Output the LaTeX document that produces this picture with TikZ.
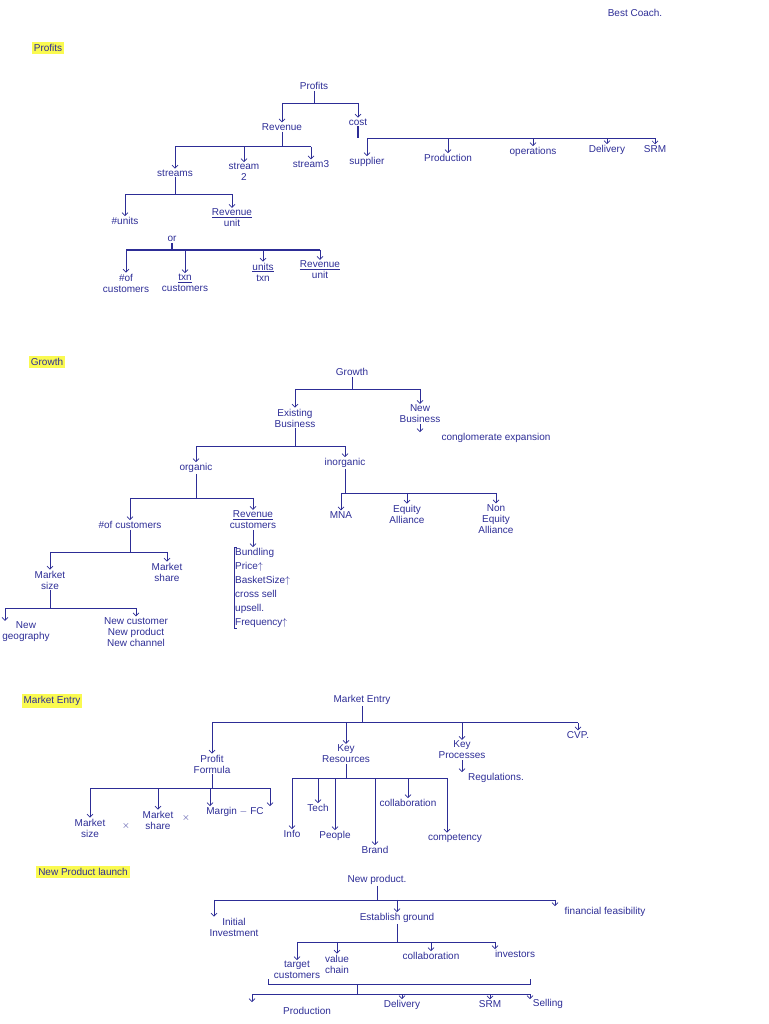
\documentclass[tikz,border=0pt]{standalone}
\usepackage{fontspec}
\setmainfont{Liberation Sans}
\usetikzlibrary{arrows.meta}
\definecolor{ink}{RGB}{45,45,150}
\definecolor{hl}{RGB}{250,250,80}
\begin{document}
\begin{tikzpicture}[x=1pt,y=-1pt,
  t/.style={text=ink,font=\fontsize{10}{11}\selectfont,align=center,inner sep=1pt},
  hd/.style={t,fill=hl,font=\fontsize{10}{11}\selectfont,inner sep=2pt},
  ln/.style={draw=ink,line width=0.7pt},
  ar/.style={ln,-{Straight Barb[length=3pt]}}]
\useasboundingbox (0,0) rectangle (768,1024);
\clip (0,0) rectangle (768,1024);
\node[t] (bc) at (635,13) {Best Coach.};
\node[hd] (h1) at (48,48) {Profits};
\node[hd] (h2) at (47,362) {Growth};
\node[hd] (h3) at (52,701) {Market Entry};
\node[hd] (h4) at (83,872) {New Product launch};
% ---------- Profits
\node[t] (p) at (314,86) {Profits};
\node[t] (rev) at (282,127) {Revenue};
\node[t] (cost) at (358,122) {cost};
\draw[ln] (p.south) -- ++(0,12) coordinate (pb);
\draw[ln] (rev.north |- pb) -- (cost.north |- pb);
\draw[ar] (rev.north |- pb) -- (rev.north);
\draw[ar] (cost.north |- pb) -- (cost.north);
\node[t] (s1) at (175,173) {streams};
\node[t] (s2) at (244,172) {stream\\2};
\node[t] (s3) at (311,164) {stream3};
\draw[ln] (rev.south) -- ++(0,15) coordinate (rb);
\draw[ln] (s1.north |- rb) -- (s3.north |- rb);
\foreach \c in {s1,s2,s3} \draw[ar] (\c.north |- rb) -- (\c.north);
\node[t] (c1) at (367,162) {supplier};
\node[t] (c2) at (448,158) {Production};
\node[t] (c3) at (533,152) {operations};
\node[t] (c4) at (607,150) {Delivery};
\node[t] (c5) at (655,149) {SRM};
\draw[ln,line width=1.2pt] (cost.south) -- ++(0,12) coordinate (cb);
\draw[ln,line width=1.2pt] (c1.north |- cb) -- (c5.north |- cb);
\foreach \c in {c1,c2,c3,c4,c5} \draw[ar] (\c.north |- cb) -- (\c.north);
\node[t] (u1) at (125,221) {\#units};
\node[t] (u2) at (232,218) {\underline{Revenue}\\unit};
\draw[ln] (s1.south) -- ++(0,17) coordinate (sb);
\draw[ln] (u1.north |- sb) -- (u2.north |- sb);
\draw[ar] (u1.north |- sb) -- (u1.north);
\draw[ar] (u2.north |- sb) -- (u2.north);
\node[t] (or) at (172,239) {or};
\node[t] (o1) at (126,283) {\#of\\customers};
\node[t] (o2) at (185,283) {\underline{txn}\\customers};
\node[t] (o3) at (263,272) {\underline{units}\\txn};
\node[t] (o4) at (320,270) {\underline{Revenue}\\unit};
\draw[ln,line width=1.2pt] (or.south) -- ++(0,7) coordinate (ob);
\draw[ln,line width=1.2pt] (o1.north |- ob) -- (o4.north |- ob);
\foreach \c in {o1,o2,o3,o4} \draw[ar] (\c.north |- ob) -- (\c.north);
% ---------- Growth
\node[t] (g) at (352,372) {Growth};
\node[t] (eb) at (295,418) {Existing\\Business};
\node[t] (nb) at (420,414) {New\\Business};
\node[t] (ce) at (496,438) {conglomerate expansion};
\draw[ln] (g.south) -- ++(0,12) coordinate (gb);
\draw[ln] (eb.north |- gb) -- (nb.north |- gb);
\draw[ar] (eb.north |- gb) -- (eb.north);
\draw[ar] (nb.north |- gb) -- (nb.north);
\draw[ar] (nb.south) -- (nb.south |- ce.north);
\node[t] (org) at (196,468) {organic};
\node[t] (ino) at (345,463) {inorganic};
\draw[ln] (eb.south) -- ++(0,18) coordinate (ebb);
\draw[ln] (org.north |- ebb) -- (ino.north |- ebb);
\draw[ar] (org.north |- ebb) -- (org.north);
\draw[ar] (ino.north |- ebb) -- (ino.north);
\node[t] (nc) at (130,525) {\#of customers};
\node[t] (rc) at (253,520) {\underline{Revenue}\\customers};
\draw[ln] (org.south) -- ++(0,24) coordinate (orb);
\draw[ln] (nc.north |- orb) -- (rc.north |- orb);
\draw[ar] (nc.north |- orb) -- (nc.north);
\draw[ar] (rc.north |- orb) -- (rc.north);
\node[t] (mna) at (341,515) {MNA};
\node[t] (ea) at (407,514) {Equity\\Alliance};
\node[t] (nea) at (496,519) {Non\\Equity\\Alliance};
\draw[ln] (ino.south) -- ++(0,24) coordinate (inb);
\draw[ln] (mna.north |- inb) -- (nea.north |- inb);
\foreach \c in {mna,ea,nea} \draw[ar] (\c.north |- inb) -- (\c.north);
\node[t,align=left,anchor=north west,font=\fontsize{10}{14}\selectfont] (list) at (234,547)
 {Bundling\\Price$\uparrow$\\BasketSize$\uparrow$\\cross sell\\upsell.\\Frequency$\uparrow$};
\draw[ar] (rc.south) -- (rc.south |- list.north);
\draw[ln] (list.north west) ++(3,0) -- (list.north west) -- (list.south west) -- ++(3,0);
\node[t] (ms) at (50,580) {Market\\size};
\node[t] (msh) at (167,572) {Market\\share};
\draw[ln] (nc.south) -- ++(0,22) coordinate (ncb);
\draw[ln] (ms.north |- ncb) -- (msh.north |- ncb);
\draw[ar] (ms.north |- ncb) -- (ms.north);
\draw[ar] (msh.north |- ncb) -- (msh.north);
\node[t] (ng) at (26,632) {New\\geography};
\node[t] (nn) at (136,632) {New customer\\New product\\New channel};
\draw[ln] (ms.south) -- ++(0,18) coordinate (msb);
\draw[ln] (5,0 |- msb) -- (nn.north |- msb);
\draw[ar] (5,0 |- msb) -- (5,0 |- ng.north);
\draw[ar] (nn.north |- msb) -- (nn.north);
% ---------- Market Entry
\node[t] (me) at (362,700) {Market Entry};
\node[t] (pf) at (212,764) {Profit\\Formula};
\node[t] (kr) at (346,754) {Key\\Resources};
\node[t] (kp) at (462,750) {Key\\Processes};
\node[t] (cvp) at (578,735) {CVP.};
\node[t] (reg) at (496,778) {Regulations.};
\draw[ln] (me.south) -- ++(0,17) coordinate (meb);
\draw[ln,line width=1.2pt] (pf.north |- meb) -- (cvp.north |- meb);
\foreach \c in {pf,kr,kp,cvp} \draw[ar] (\c.north |- meb) -- (\c.north);
\draw[ar] (kp.south) -- (kp.south |- reg.north);
\node[t] (m1) at (90,828) {Market\\size};
\node[t] (x1) at (126,826) {$\times$};
\node[t] (m2) at (158,820) {Market\\share};
\node[t] (x2) at (186,818) {$\times$};
\node[t] (m3) at (235,812) {Margin $-$ FC};
\draw[ln] (pf.south) -- ++(0,14) coordinate (pfb);
\draw[ln] (m1.north |- pfb) -- ([xshift=35pt]m3.north |- pfb);
\foreach \c in {m1,m2} \draw[ar] (\c.north |- pfb) -- (\c.north);
\draw[ar] ([xshift=-25pt]m3.north |- pfb) -- ([xshift=-25pt]m3.north);
\draw[ar] ([xshift=35pt]m3.north |- pfb) -- ([xshift=35pt]m3.north);
\node[t] (k1) at (292,834) {Info};
\node[t] (k2) at (318,808) {Tech};
\node[t] (k3) at (335,836) {People};
\node[t] (k4) at (375,850) {Brand};
\node[t] (k5) at (408,803) {collaboration};
\node[t] (k6) at (455,838) {competency};
\draw[ln] (kr.south) -- ++(0,14) coordinate (krb);
\draw[ln] (k1.north |- krb) -- ([xshift=-8pt]k6.north |- krb);
\foreach \c in {k1,k2,k3,k4,k5} \draw[ar] (\c.north |- krb) -- (\c.north);
\draw[ar] ([xshift=-8pt]k6.north |- krb) -- ([xshift=-8pt]k6.north);
% ---------- New Product
\node[t] (np) at (377,880) {New product.};
\node[t] (ii) at (234,927) {Initial\\Investment};
\node[t] (eg) at (397,918) {Establish ground};
\node[t] (ff) at (605,912) {financial feasibility};
\draw[ln] (np.south) -- ++(0,14) coordinate (npb);
\draw[ln] ([xshift=-20pt]ii.north |- npb) -- ([xshift=-50pt]ff.north |- npb);
\draw[ar] ([xshift=-20pt]ii.north |- npb) -- ([xshift=-20pt]ii.north);
\draw[ar] (eg.north |- npb) -- (eg.north);
\draw[ar] ([xshift=-50pt]ff.north |- npb) -- ([xshift=-50pt]ff.north);
\node[t] (tc) at (297,970) {target\\customers};
\node[t] (vc) at (337,964) {value\\chain};
\node[t] (col) at (431,956) {collaboration};
\node[t] (inv) at (515,954) {investors};
\draw[ln] (eg.south) -- ++(0,18) coordinate (egb);
\draw[ln] (tc.north |- egb) -- ([xshift=-20pt]inv.north |- egb);
\foreach \c in {tc,vc,col} \draw[ar] (\c.north |- egb) -- (\c.north);
\draw[ar] ([xshift=-20pt]inv.north |- egb) -- ([xshift=-20pt]inv.north);
\coordinate (vl) at (268,984); \coordinate (vr) at (530,984);
\coordinate (vs) at (357,984); \coordinate (vb) at (357,994);
\draw[ln] (268,979) -- (vl) -- (vr) -- (530,979);
\node[t] (q1) at (307,1011) {Production};
\node[t] (q2) at (402,1005) {Delivery};
\node[t] (q3) at (490,1004) {SRM};
\node[t] (q4) at (548,1004) {Selling};
\draw[ln] (vs) -- (vb);
\draw[ln] (252,994) -- (530,994);
\draw[ar] (252,994) -- (252,1002);
\foreach \c in {q2,q3} \draw[ar] (\c.north |- vb) -- (\c.north);
\draw[ar] (530,994) -- (530,999);
\end{tikzpicture}
\end{document}
